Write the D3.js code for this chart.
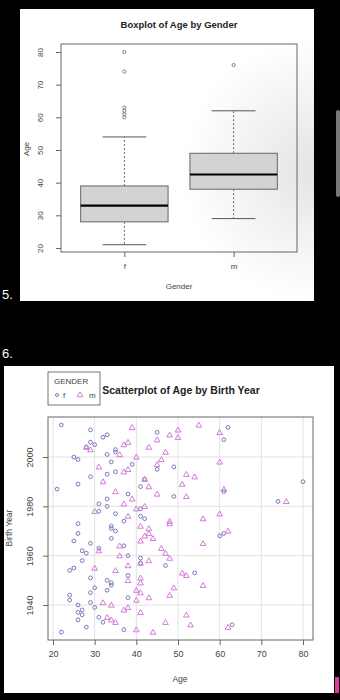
<!DOCTYPE html>
<html>
<head>
<meta charset="utf-8">
<script src="https://cdn.jsdelivr.net/npm/d3@7"></script>
<style>
html,body{margin:0;padding:0;background:#000;}
svg{display:block;font-family:"Liberation Sans",Arial,sans-serif;}
</style>
</head>
<body>
<svg id="c" width="340" height="700"></svg>
<script>
// ---------- Boxplot data ----------
const genders = ["f", "m"];
const q1 = [28, 38];
const medians = [33, 42.5];
const q3 = [39, 49];
const whiskLo = [21, 29];
const whiskHi = [54, 62];
const outliersF = [60, 61, 62, 63, 74, 80];
const outliersM = [76];
const boxTicks = [20, 30, 40, 50, 60, 70, 80];

// ---------- Scatter data ----------
const fAge = [22,29,33,32,29,30,28,35,35,33,25,26,34,39,29,33,35,26,21,38,33,31,33,31,35,41,41,42,26,37,34,34,35,26,25,34,29,37,31,27,28,38,41,41,27,47,25,24,54,38,29,33,34,34,30,33,29,24,24,38,29,30,26,27,26,27,31,26,32,28,37,22,45,45,49,49,61,62,61,80,74,60,61,63,42,41];
const fYear = [2013,2011,2009,2008,2006,2005,2004,2003,2002,2001,2000,1999,1998,1997,1992,1993,1994,1989,1987,1985,1983,1981,1980,1978,1977,1979,1976,1975,1973,1974,1972,1971,1970,1969,1966,1967,1965,1964,1963,1962,1961,1960,1959,1957,1958,1956,1955,1954,1953,1952,1951,1950,1949,1948,1947,1946,1945,1944,1942,1943,1941,1939,1940,1938,1937,1936,1935,1934,1933,1931,1930,1929,2010,1995,1996,1984,2007,2012,1986,1990,1982,1968,1969,1932,1991,1988];
const mAge = [55,50,39,60,48,50,45,38,37,43,29,36,47,40,46,45,60,31,38,37,52,54,42,32,51,43,61,35,45,52,39,76,37,42,40,30,60,38,56,48,48,41,43,62,43,42,44,41,56,36,46,31,47,36,48,43,41,38,30,35,51,52,41,38,41,56,49,40,41,48,43,40,32,34,38,37,41,52,33,34,35,47,53,62,40,44,28];
const mYear = [2013,2011,2012,2010,2009,2008,2007,2006,2005,2004,2003,2001,2002,2000,1999,1997,1998,1996,1995,1994,1993,1992,1991,1990,1989,1988,1987,1986,1985,1984,1983,1982,1981,1980,1979,1978,1977,1976,1975,1974,1973,1972,1971,1970,1969,1968,1967,1966,1965,1964,1963,1962,1961,1960,1959,1958,1957,1956,1955,1954,1953,1952,1951,1950,1949,1948,1947,1946,1945,1944,1943,1942,1941,1940,1939,1938,1937,1936,1935,1934,1933,1933,1932,1931,1930,1929,2004];
const ageTicks = [20, 30, 40, 50, 60, 70, 80];
const yearTicks = [1940, 1960, 1980, 2000];

const colF = "#6b6bb3";
const colM = "#cf6cd6";
const textCol = "#444";

const svg = d3.select("#c");
svg.append("rect").attr("width", 340).attr("height", 700).attr("fill", "#000");

const defs = svg.append("defs");
const grad = defs.append("radialGradient").attr("id", "shade")
  .attr("cx", "100%").attr("cy", "55%").attr("r", "45%");
grad.append("stop").attr("offset", "0%").attr("stop-color", "#e4e4e4");
grad.append("stop").attr("offset", "100%").attr("stop-color", "#ffffff");

// =============== PANEL 1: BOXPLOT ===============
svg.append("rect").attr("x", 20).attr("y", 9).attr("width", 294).attr("height", 292).attr("fill", "#fff");
svg.append("rect").attr("x", 20).attr("y", 9).attr("width", 294).attr("height", 292).attr("fill", "url(#shade)");

const bx = d3.scaleLinear().domain([0.42, 2.58]).range([61, 297]);
const by = d3.scaleLinear().domain([20, 80]).range([248, 52]);
const b = svg.append("g");

b.append("text").attr("x", 179).attr("y", 28).attr("text-anchor", "middle")
  .attr("font-size", 9.5).attr("font-weight", "bold").attr("fill", "#222")
  .text("Boxplot of Age by Gender");

genders.forEach((g, i) => {
  const cx = bx(i + 1), hw = bx(i + 1.4) - cx, cw = bx(i + 1.2) - cx;
  b.append("line").attr("x1", cx).attr("x2", cx).attr("y1", by(q3[i])).attr("y2", by(whiskHi[i]))
    .attr("stroke", "#666").attr("stroke-dasharray", "2,2");
  b.append("line").attr("x1", cx).attr("x2", cx).attr("y1", by(q1[i])).attr("y2", by(whiskLo[i]))
    .attr("stroke", "#666").attr("stroke-dasharray", "2,2");
  b.append("line").attr("x1", cx - cw).attr("x2", cx + cw).attr("y1", by(whiskHi[i])).attr("y2", by(whiskHi[i])).attr("stroke", "#555");
  b.append("line").attr("x1", cx - cw).attr("x2", cx + cw).attr("y1", by(whiskLo[i])).attr("y2", by(whiskLo[i])).attr("stroke", "#555");
  b.append("rect").attr("x", cx - hw).attr("width", 2 * hw)
    .attr("y", by(q3[i])).attr("height", by(q1[i]) - by(q3[i]))
    .attr("fill", "#d3d3d3").attr("stroke", "#666").attr("stroke-width", 1);
  b.append("line").attr("x1", cx - hw).attr("x2", cx + hw).attr("y1", by(medians[i])).attr("y2", by(medians[i]))
    .attr("stroke", "#000").attr("stroke-width", 2.2);
  const outs = i === 0 ? outliersF : outliersM;
  b.selectAll(null).data(outs).enter().append("circle")
    .attr("cx", cx).attr("cy", d => by(d)).attr("r", 1.6)
    .attr("fill", "none").attr("stroke", "#666").attr("stroke-width", 0.8);
});

b.append("rect").attr("x", 61).attr("y", 44).attr("width", 236).attr("height", 208)
  .attr("fill", "none").attr("stroke", "#666").attr("stroke-width", 1);

const bya = b.append("g").attr("transform", "translate(61,0)")
  .call(d3.axisLeft(by).tickValues(boxTicks).tickSize(5).tickFormat(d3.format("d")));
bya.select(".domain").remove();
bya.selectAll("line").attr("stroke", "#666");
bya.selectAll("text").attr("fill", textCol).attr("font-size", 8).attr("text-anchor", "middle")
  .attr("x", 0).attr("y", 0).attr("dy", "0.35em")
  .attr("transform", "translate(-21,0) rotate(-90)");

const bxa = b.append("g").attr("transform", "translate(0,252)")
  .call(d3.axisBottom(bx).tickValues([1, 2]).tickSize(5).tickPadding(6).tickFormat((d, i) => genders[i]));
bxa.select(".domain").remove();
bxa.selectAll("line").attr("stroke", "#666");
bxa.selectAll("text").attr("fill", textCol).attr("font-size", 8);

b.append("text").attr("transform", "translate(29,149) rotate(-90)").attr("text-anchor", "middle")
  .attr("font-size", 8).attr("fill", textCol).text("Age");
b.append("text").attr("x", 179).attr("y", 289).attr("text-anchor", "middle")
  .attr("font-size", 8).attr("fill", textCol).text("Gender");

svg.append("text").attr("x", 2).attr("y", 299).attr("font-size", 13).attr("fill", "#fff").text("5.");
svg.append("rect").attr("x", 336).attr("y", 110).attr("width", 4).attr("height", 87).attr("rx", 2).attr("fill", "#777");

// =============== PANEL 2: SCATTER ===============
svg.append("text").attr("x", 2).attr("y", 358).attr("font-size", 13).attr("fill", "#fff").text("6.");
svg.append("rect").attr("x", 4).attr("y", 366).attr("width", 330).attr("height", 327).attr("fill", "#fff");

const sx = d3.scaleLinear().domain([20, 80]).range([53, 303]);
const sy = d3.scaleLinear().domain([1940, 2000]).range([605, 457]);
const s = svg.append("g");

s.selectAll(null).data(ageTicks).enter().append("line")
  .attr("x1", d => sx(d)).attr("x2", d => sx(d)).attr("y1", 417).attr("y2", 640)
  .attr("stroke", "#e2e2e2").attr("stroke-width", 1);
s.selectAll(null).data(yearTicks).enter().append("line")
  .attr("x1", 48).attr("x2", 313).attr("y1", d => sy(d)).attr("y2", d => sy(d))
  .attr("stroke", "#e2e2e2").attr("stroke-width", 1);

s.selectAll(null).data(fAge.map((a, i) => [a, fYear[i]])).enter().append("circle")
  .attr("cx", d => sx(d[0])).attr("cy", d => sy(d[1])).attr("r", 1.9)
  .attr("fill", "none").attr("stroke", colF).attr("stroke-width", 0.9);
const tri = d3.symbol().type(d3.symbolTriangle).size(14);
s.selectAll(null).data(mAge.map((a, i) => [a, mYear[i]])).enter().append("path")
  .attr("d", tri).attr("transform", d => `translate(${sx(d[0])},${sy(d[1]) + 0.5})`)
  .attr("fill", "none").attr("stroke", colM).attr("stroke-width", 0.9);

s.append("rect").attr("x", 48).attr("y", 417).attr("width", 265).attr("height", 223)
  .attr("fill", "none").attr("stroke", "#666").attr("stroke-width", 1);

const sxa = s.append("g").attr("transform", "translate(0,640)")
  .call(d3.axisBottom(sx).tickValues(ageTicks).tickSize(5).tickPadding(6).tickFormat(d3.format("d")));
sxa.select(".domain").remove();
sxa.selectAll("line").attr("stroke", "#666");
sxa.selectAll("text").attr("fill", textCol).attr("font-size", 9);

const sya = s.append("g").attr("transform", "translate(48,0)")
  .call(d3.axisLeft(sy).tickValues(yearTicks).tickSize(5).tickFormat(d3.format("d")));
sya.select(".domain").remove();
sya.selectAll("line").attr("stroke", "#666");
sya.selectAll("text").attr("fill", textCol).attr("font-size", 9).attr("text-anchor", "middle")
  .attr("x", 0).attr("y", 0).attr("dy", "0.35em")
  .attr("transform", "translate(-18,0) rotate(-90)");

s.append("text").attr("transform", "translate(12,528) rotate(-90)").attr("text-anchor", "middle")
  .attr("font-size", 8.5).attr("fill", textCol).text("Birth Year");
s.append("text").attr("x", 180).attr("y", 682).attr("text-anchor", "middle")
  .attr("font-size", 8.5).attr("fill", textCol).text("Age");

s.append("text").attr("x", 181).attr("y", 394).attr("text-anchor", "middle")
  .attr("font-size", 10.5).attr("font-weight", "bold").attr("fill", "#222")
  .text("Scatterplot of Age by Birth Year");

const lg = s.append("g");
lg.append("rect").attr("x", 48).attr("y", 372).attr("width", 52).attr("height", 33)
  .attr("fill", "#fff").attr("stroke", "#555").attr("stroke-width", 0.8);
lg.append("text").attr("x", 54).attr("y", 384).attr("font-size", 8).attr("fill", textCol).text("GENDER");
lg.append("circle").attr("cx", 57).attr("cy", 395).attr("r", 1.5).attr("fill", "none").attr("stroke", colF).attr("stroke-width", 0.9);
lg.append("text").attr("x", 63).attr("y", 398).attr("font-size", 8).attr("fill", textCol).text(genders[0]);
lg.append("path").attr("d", tri).attr("transform", "translate(80,395)").attr("fill", "none").attr("stroke", colM).attr("stroke-width", 0.9);
lg.append("text").attr("x", 89).attr("y", 398).attr("font-size", 8).attr("fill", textCol).text(genders[1]);

svg.append("rect").attr("x", 335).attr("y", 677).attr("width", 4).attr("height", 16).attr("fill", "#d040a0");
</script>
</body>
</html>
